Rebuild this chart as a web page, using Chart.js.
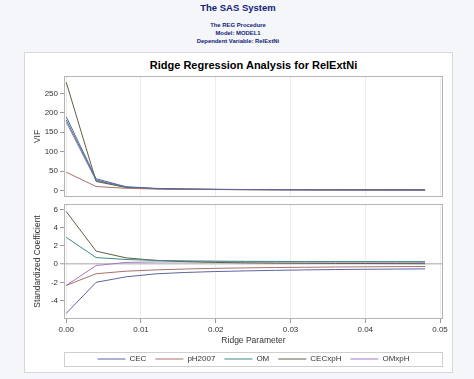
<!DOCTYPE html>
<html>
<head>
<meta charset="utf-8">
<script src="https://cdn.jsdelivr.net/npm/chart.js@4"></script>
<style>
  html, body { margin:0; padding:0; }
  body { width:474px; height:379px; background:#f5f6fa; position:relative; overflow:hidden; font-family:"Liberation Sans", Arial, sans-serif; }
  .hdr { position:absolute; left:0; width:476px; text-align:center; color:#112277; font-weight:bold; white-space:nowrap; line-height:1; }
  #panel { position:absolute; left:24px; top:52px; width:429px; height:321px; background:#fff; border:1px solid #d8d8d8; box-sizing:border-box; }
  #title { position:absolute; left:64px; width:379px; top:59px; text-align:center; font-weight:bold; font-size:11px; color:#000; }
  canvas { position:absolute; left:0; top:0; }
</style>
</head>
<body>
<div class="hdr" style="top:3px;font-size:9.5px;">The SAS System</div>
<div class="hdr" style="top:22.5px;font-size:5.9px;">The REG Procedure</div>
<div class="hdr" style="top:30.5px;font-size:5.9px;">Model: MODEL1</div>
<div class="hdr" style="top:38.5px;font-size:5.9px;">Dependent Variable: RelExtNi</div>
<div id="panel"></div>
<div id="title">Ridge Regression Analysis for RelExtNi</div>
<canvas id="c1" width="474" height="379"></canvas>
<canvas id="c2" width="474" height="379"></canvas>
<script>
// ---- data ----
const ridge = [0, 0.004, 0.008, 0.012, 0.016, 0.020, 0.024, 0.028, 0.032, 0.036, 0.040, 0.044, 0.048];
const seriesNames = ["CEC", "pH2007", "OM", "CECxpH", "OMxpH"];
const seriesColors = ["#5c64a0", "#a8706a", "#3d8a84", "#5f5f45", "#a878c4"];

const vifCEC    = [190, 30, 9.5, 5.2, 3.6, 2.8, 2.3, 2.0, 1.8, 1.6, 1.5, 1.4, 1.3];
const vifPH2007 = [47, 10, 5.5, 3.6, 2.7, 2.2, 1.9, 1.7, 1.5, 1.4, 1.3, 1.2, 1.2];
const vifOM     = [182, 27, 8.5, 4.8, 3.3, 2.6, 2.2, 1.9, 1.7, 1.5, 1.4, 1.3, 1.2];
const vifCECxpH = [279, 23, 7.5, 4.2, 3.0, 2.4, 2.0, 1.7, 1.5, 1.4, 1.3, 1.2, 1.1];
const vifOMxpH  = [176, 25, 8, 4.5, 3.2, 2.5, 2.1, 1.8, 1.6, 1.5, 1.4, 1.3, 1.2];

const coefCEC    = [-5.38, -1.98, -1.38, -1.05, -0.90, -0.80, -0.73, -0.67, -0.62, -0.58, -0.55, -0.53, -0.51];
const coefPH2007 = [-2.32, -1.04, -0.76, -0.62, -0.52, -0.45, -0.40, -0.36, -0.33, -0.30, -0.28, -0.26, -0.25];
const coefOM     = [2.95, 0.73, 0.52, 0.42, 0.37, 0.34, 0.32, 0.31, 0.30, 0.29, 0.29, 0.28, 0.28];
const coefCECxpH = [5.77, 1.43, 0.70, 0.42, 0.28, 0.20, 0.15, 0.12, 0.10, 0.09, 0.08, 0.07, 0.06];
const coefOMxpH  = [-2.32, -0.14, 0.20, 0.25, 0.26, 0.26, 0.25, 0.25, 0.24, 0.24, 0.23, 0.23, 0.22];

const xTicks = [0, 0.01, 0.02, 0.03, 0.04, 0.05];
const vifTicks = [0, 50, 100, 150, 200, 250];
const coefTicks = [-4, -2, 0, 2, 4, 6];

// ---- helpers ----
const FONT = "'Liberation Sans', Arial, sans-serif";
Chart.defaults.font.family = FONT;
Chart.defaults.color = "#333";

function mk(vals) {
  return vals.map((v, i) => ({ x: ridge[i], y: v }));
}
function datasets(arrs) {
  return arrs.map((a, i) => ({
    label: seriesNames[i], data: mk(a),
    borderColor: seriesColors[i], backgroundColor: seriesColors[i],
    borderWidth: 1, pointRadius: 0, tension: 0, fill: false
  }));
}
const frame = {
  id: 'frame',
  afterDraw(chart) {
    const a = chart.chartArea, ctx = chart.ctx;
    ctx.save();
    ctx.strokeStyle = '#b4b4b4'; ctx.lineWidth = 1;
    ctx.strokeRect(Math.round(a.left) + 0.5, Math.round(a.top) + 0.5, Math.round(a.right - a.left) - 1, Math.round(a.bottom - a.top) - 1);
    const lg = chart.legend;
    if (lg && lg.options.display && lg.legendHitBoxes && lg.legendHitBoxes.length) {
      const hb = lg.legendHitBoxes;
      const top = Math.min(...hb.map(h => h.top)) - 3;
      const bot = Math.max(...hb.map(h => h.top + h.height)) + 3;
      ctx.strokeStyle = '#cfcfcf';
      ctx.strokeRect(Math.round(a.left) + 0.5, Math.round(top) + 0.5, Math.round(a.right - a.left) - 1, Math.round(bot - top));
    }
    ctx.restore();
  }
};
function xScale(showLabels) {
  return {
    type: 'linear', min: -0.0003, max: 0.0504,
    afterBuildTicks: s => { s.ticks = xTicks.map(v => ({ value: v })); },
    afterFit: s => { s.height = showLabels ? 27 : 0; },
    grid: { color: '#ececec', drawTicks: showLabels, tickLength: 4, tickColor: '#9a9a9a' },
    border: { display: false },
    ticks: { display: showLabels, padding: 2, maxRotation: 0, font: { size: 8 }, color: '#333', callback: v => v.toFixed(2) },
    title: { display: showLabels, text: 'Ridge Parameter', font: { size: 8.5 }, color: '#333', padding: { top: 0, bottom: 0 } }
  };
}

// ---- top chart: VIF ----
new Chart(document.getElementById('c1'), {
  type: 'line',
  data: { datasets: datasets([vifCEC, vifPH2007, vifOM, vifCECxpH, vifOMxpH]) },
  options: {
    responsive: false, animation: false, events: [],
    layout: { padding: { top: 76, left: 30, right: 31, bottom: 182 } },
    plugins: { legend: { display: false }, tooltip: { enabled: false } },
    scales: {
      x: xScale(false),
      y: {
        type: 'linear', min: -17, max: 295,
        afterBuildTicks: s => { s.ticks = vifTicks.map(v => ({ value: v })); },
        afterFit: s => { s.width = 34; },
        grid: { drawOnChartArea: false, drawTicks: true, tickLength: 4, tickColor: '#9a9a9a' },
        border: { display: false },
        ticks: { padding: 2, font: { size: 8 }, color: '#333' },
        title: { display: true, text: 'VIF', font: { size: 8.5 }, color: '#333', padding: { top: 3, bottom: 0 } }
      }
    }
  },
  plugins: [frame]
});

// ---- bottom chart: standardized coefficients ----
new Chart(document.getElementById('c2'), {
  type: 'line',
  data: { datasets: datasets([coefCEC, coefPH2007, coefOM, coefCECxpH, coefOMxpH]) },
  options: {
    responsive: false, animation: false, events: [],
    layout: { padding: { top: 204, left: 30, right: 31, bottom: 6 } },
    plugins: {
      tooltip: { enabled: false },
      legend: {
        display: true, position: 'bottom', fullSize: false,
        labels: {
          boxWidth: 28, boxHeight: 1, padding: 9, font: { size: 8 }, color: '#333',
          generateLabels: chart => Chart.defaults.plugins.legend.labels.generateLabels(chart).map(l => Object.assign(l, { lineWidth: 0 }))
        }
      }
    },
    scales: {
      x: xScale(true),
      y: {
        type: 'linear', min: -6, max: 6.6,
        afterBuildTicks: s => { s.ticks = coefTicks.map(v => ({ value: v })); },
        afterFit: s => { s.width = 34; },
        grid: {
          drawOnChartArea: true, drawTicks: true, tickLength: 4, tickColor: '#9a9a9a', tickWidth: 1,
          color: c => (c.tick && c.tick.value === 0) ? '#c4c4c4' : 'rgba(0,0,0,0)',
          lineWidth: c => (c.tick && c.tick.value === 0) ? 1.5 : 1
        },
        border: { display: false },
        ticks: { padding: 2, font: { size: 8 }, color: '#333' },
        title: { display: true, text: 'Standardized Coefficient', font: { size: 8.5 }, color: '#333', padding: { top: 3, bottom: 0 } }
      }
    }
  },
  plugins: [frame]
});
</script>
</body>
</html>
